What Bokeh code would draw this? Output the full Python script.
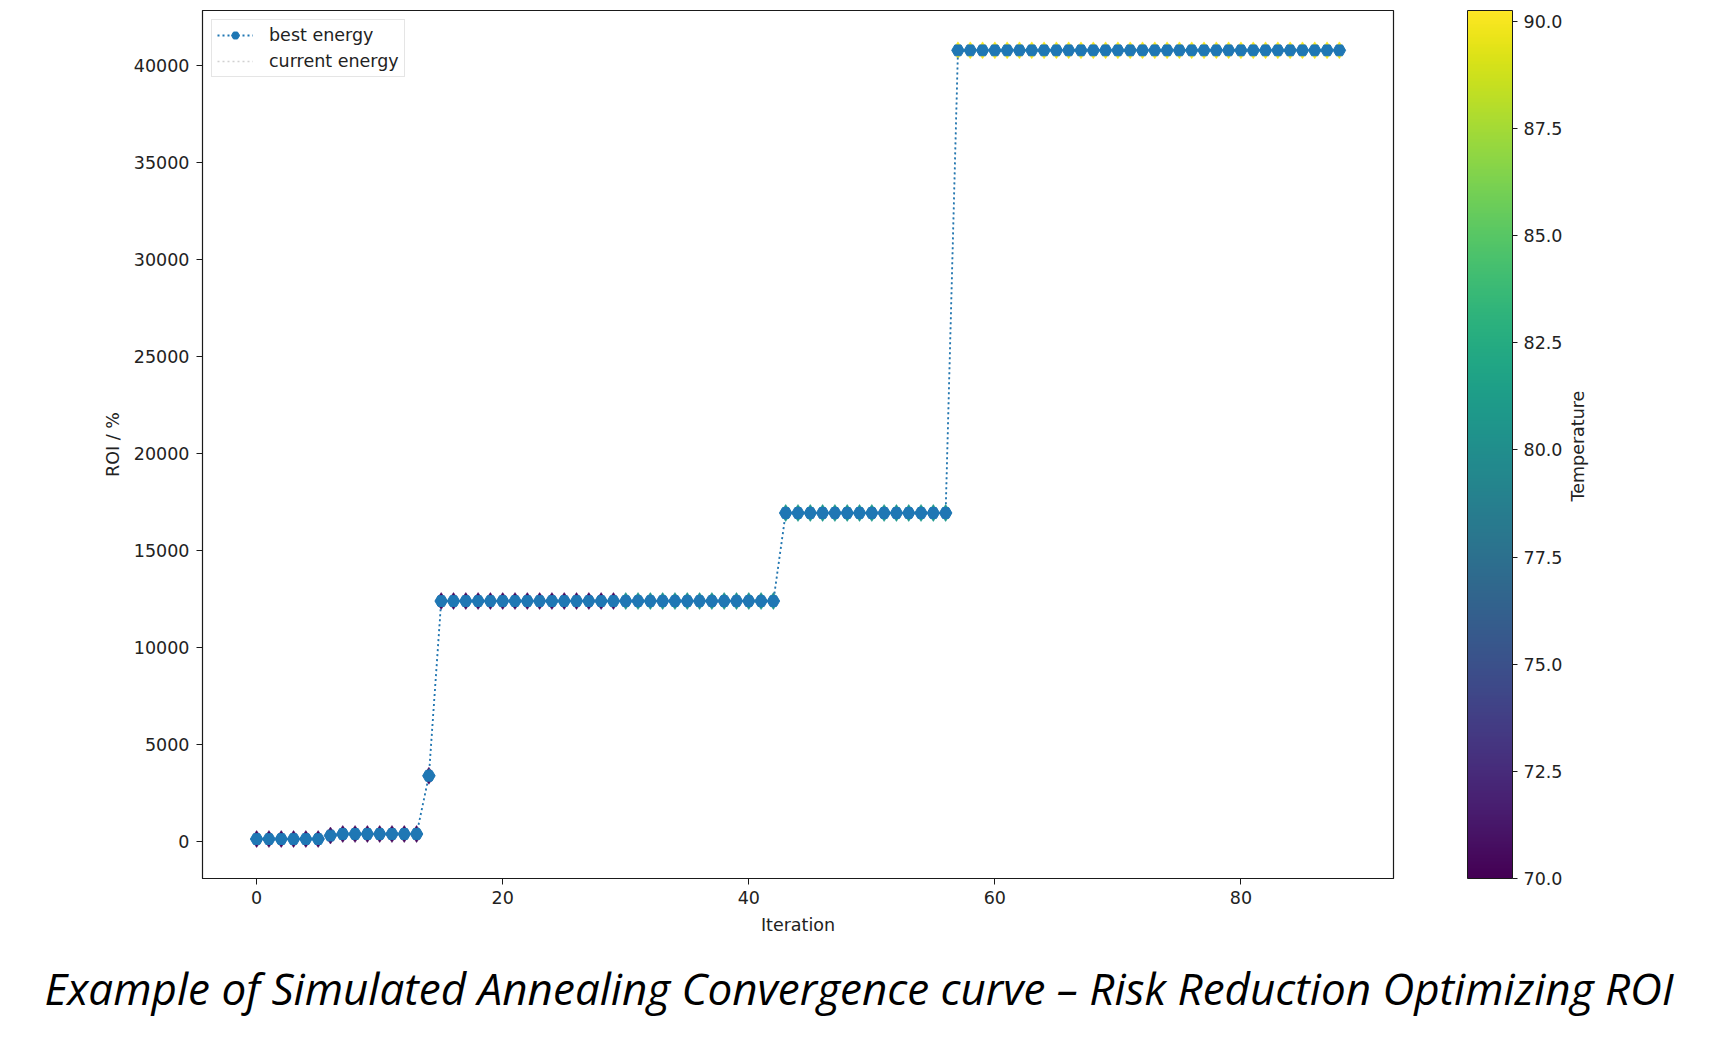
import math
from bokeh.plotting import figure
from bokeh.models import (Range1d, ColumnDataSource, LinearColorMapper, ColorBar,
                          FixedTicker, PrintfTickFormatter, Legend, LegendItem,
                          Title, LinearAxis, CustomJSTickFormatter)
from bokeh.palettes import Viridis256
from bokeh.embed import file_html
from bokeh.resources import INLINE

# ---------------- data ----------------
iteration = list(range(89))

best_energy = [
    120, 120, 120, 120, 120, 120, 300,
    380, 380, 380, 380, 380, 380, 380,
    3380,
    12390, 12390, 12390, 12390, 12390, 12390, 12390, 12390, 12390, 12390,
    12390, 12390, 12390, 12390, 12390, 12390, 12390, 12390, 12390, 12390,
    12390, 12390, 12390, 12390, 12390, 12390, 12390, 12390,
    16930, 16930, 16930, 16930, 16930, 16930, 16930,
    16930, 16930, 16930, 16930, 16930, 16930, 16930,
    40780, 40780, 40780, 40780, 40780, 40780, 40780, 40780,
    40780, 40780, 40780, 40780, 40780, 40780, 40780, 40780,
    40780, 40780, 40780, 40780, 40780, 40780, 40780, 40780,
    40780, 40780, 40780, 40780, 40780, 40780, 40780, 40780,
]

current_energy = list(best_energy)

temperature = [
    70.6, 70.6, 70.6, 70.6, 70.6, 70.6, 70.6, 70.6, 70.6, 70.6,
    70.6, 70.6, 70.6, 70.6, 70.6, 70.6, 70.6, 70.6, 70.6, 70.6,
    70.6, 70.6, 70.6, 70.6, 70.6, 70.6, 70.6, 70.6, 70.6, 70.6,
    80.3, 80.3, 80.3, 80.3, 80.3, 80.3, 80.3, 80.3, 80.3, 80.3,
    80.3, 80.3, 80.3,
    80.8, 80.8, 80.8, 80.8, 80.8, 80.8, 80.8, 80.8, 80.8, 80.8,
    80.8, 80.8, 80.8, 80.8,
    90.0, 90.0, 90.0, 90.0, 90.0, 90.0, 90.0, 90.0,
    90.0, 90.0, 90.0, 90.0, 90.0, 90.0, 90.0, 90.0,
    90.0, 90.0, 90.0, 90.0, 90.0, 90.0, 90.0, 90.0,
    90.0, 90.0, 90.0, 90.0, 90.0, 90.0, 90.0, 90.0,
]

x_ticks = [0, 20, 40, 60, 80]
y_ticks = [0, 5000, 10000, 15000, 20000, 25000, 30000, 35000, 40000]
temp_ticks = [70.0, 72.5, 75.0, 77.5, 80.0, 82.5, 85.0, 87.5, 90.0]

x_label = "Iteration"
y_label = "ROI / %"
cbar_label = "Temperature"
caption = "Example of Simulated Annealing Convergence curve \u2013 Risk Reduction Optimizing ROI"

# ---------------- figure ----------------
FONT = "DejaVu Sans"
FS = "17.5px"
TXT = "#222222"
FRAME_H = 868

p = figure(width=1708, height=1040, title=None,
           x_range=Range1d(-4.4, 92.4), y_range=Range1d(-1914, 42834),
           output_backend="svg", toolbar_location=None,
           min_border_left=202, min_border_right=315,
           min_border_top=10, min_border_bottom=162)

p.background_fill_color = "white"
p.border_fill_color = "white"
p.outline_line_color = "#1a1a1a"
p.outline_line_width = 1.2
p.grid.visible = False

src = ColumnDataSource(dict(x=iteration, best=best_energy,
                            cur=current_energy, temp=temperature))

mapper = LinearColorMapper(palette=Viridis256, low=70.0, high=90.25)

cur_line = p.line("x", "cur", source=src, line_color="#bdbdbd", line_alpha=0.7,
                  line_dash="2 3", line_width=1.5)
cur_pts = p.scatter("x", "cur", source=src, marker="diamond", size=17,
                    fill_color={"field": "temp", "transform": mapper},
                    line_color={"field": "temp", "transform": mapper},
                    line_width=0.5)
best_line = p.line("x", "best", source=src, line_color="#1f77b4",
                   line_dash="2 3", line_width=1.8)
best_pts = p.scatter("x", "best", source=src, marker="hex", size=12.5,
                     fill_color="#1f77b4", line_color="#1f77b4")

legend = Legend(items=[
    LegendItem(label="best energy", renderers=[best_line, best_pts]),
    LegendItem(label="current energy", renderers=[cur_line]),
], location="top_left")
legend.label_text_font = FONT
legend.label_text_font_size = FS
legend.label_text_color = TXT
legend.border_line_color = "#cccccc"
legend.border_line_width = 1
legend.background_fill_alpha = 0.85
legend.glyph_width = 36
legend.glyph_height = 20
legend.label_height = 20
legend.label_standoff = 16
legend.padding = 5
legend.spacing = 6
legend.margin = 9
p.add_layout(legend)

# axes
for ax in (p.xaxis, p.yaxis):
    ax.major_label_text_font = FONT
    ax.major_label_text_font_size = FS
    ax.major_label_text_color = TXT
    ax.axis_label_text_font = FONT
    ax.axis_label_text_font_size = FS
    ax.axis_label_text_font_style = "normal"
    ax.axis_label_text_color = TXT
    ax.axis_line_color = "#1a1a1a"
    ax.major_tick_line_color = "#1a1a1a"
    ax.major_tick_in = 0
    ax.major_tick_out = 6
    ax.minor_tick_line_color = None

p.xaxis.ticker = FixedTicker(ticks=x_ticks)
p.yaxis.ticker = FixedTicker(ticks=y_ticks)
p.xaxis.axis_label = x_label
p.yaxis.axis_label = y_label
p.xaxis.major_label_standoff = 6
p.xaxis.axis_label_standoff = 8
p.yaxis.major_label_standoff = 7
p.yaxis.axis_label_standoff = 8

# colour bar
cbar = ColorBar(color_mapper=mapper, orientation="vertical",
                location=(1265, 0), width=45, height=FRAME_H,
                margin=0, padding=0,
                ticker=FixedTicker(ticks=temp_ticks),
                formatter=PrintfTickFormatter(format="%.1f"),
                major_label_text_font=FONT, major_label_text_font_size=FS,
                major_label_text_color=TXT,
                major_tick_in=0, major_tick_out=5,
                major_tick_line_color="#1a1a1a",
                minor_tick_line_color=None,
                label_standoff=6,
                bar_line_color="#1a1a1a", bar_line_width=1,
                border_line_color=None, background_fill_color=None)
p.add_layout(cbar)

# colour-bar label: a single rotated tick label on a tick-less right axis
# (pixel range of the frame; label starts 57 px below the frame centre)
p.extra_y_ranges = {"cbar_label": Range1d(0, FRAME_H)}
temp_axis = LinearAxis(y_range_name="cbar_label",
                       ticker=FixedTicker(ticks=[FRAME_H / 2 - 57]),
                       formatter=CustomJSTickFormatter(args=dict(label=cbar_label),
                                                       code="return label;"),
                       major_label_orientation=math.pi / 2,
                       axis_line_color=None, major_tick_line_color=None,
                       minor_tick_line_color=None, major_tick_in=0, major_tick_out=0,
                       major_label_standoff=184,
                       major_label_text_font=FONT, major_label_text_font_size=FS,
                       major_label_text_color=TXT)
p.add_layout(temp_axis, "right")

p.add_layout(Title(text=caption, align="left", offset=-158, standoff=36,
                   text_font="Open Sans", text_font_style="italic",
                   text_font_size="44px", text_color="black"), "below")

open("out.html", "w").write(file_html(p, INLINE))
